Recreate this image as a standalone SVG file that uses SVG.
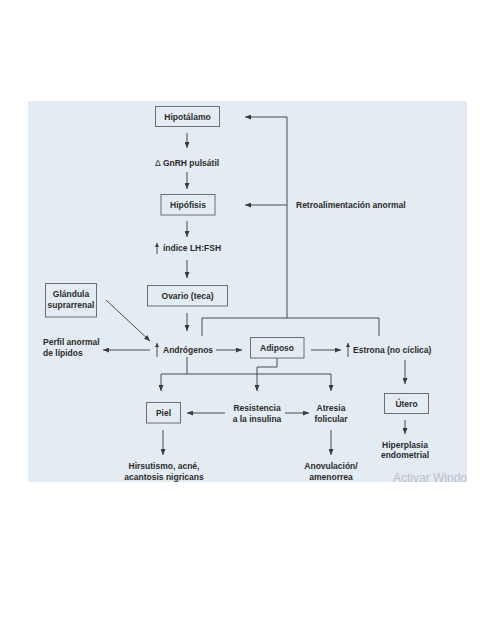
<svg xmlns="http://www.w3.org/2000/svg" width="494" height="640" viewBox="0 0 494 640">
<defs>
<marker id="ah" markerWidth="6" markerHeight="5" refX="6" refY="2.5" orient="auto" markerUnits="userSpaceOnUse"><path d="M0,0 L6,2.5 L0,5 Z" fill="#3a3a3a"/></marker>
<marker id="ahs" markerWidth="4" markerHeight="4" refX="4" refY="2" orient="auto" markerUnits="userSpaceOnUse"><path d="M0,0 L4,2 L0,4 Z" fill="#3a3a3a"/></marker>
<clipPath id="bgclip"><rect x="28" y="101" width="439" height="381"/></clipPath>
</defs>
<style>
text{font-family:"Liberation Sans",Arial,sans-serif;font-size:8.5px;font-weight:bold;fill:#2b2b2b}
.c{text-anchor:middle}
.box{fill:#e3ebf3;stroke:#6e6e6e;stroke-width:1}
.ln{fill:none;stroke:#3a3a3a;stroke-width:0.9}
.ar{fill:none;stroke:#3a3a3a;stroke-width:0.9;marker-end:url(#ah)}
.up{fill:none;stroke:#3a3a3a;stroke-width:0.9;marker-end:url(#ahs)}
.wm{font-size:12px;font-weight:normal;fill:#b9c0ca}
</style>
<rect width="494" height="640" fill="#ffffff"/>
<rect x="28" y="101" width="439" height="381" fill="#e3ebf3"/>

<g id="connectors">
<path class="ar" d="M187,133 V148"/>
<path class="ar" d="M187,172 V189"/>
<path class="ar" d="M187,221 V237"/>
<path class="ar" d="M187,260 V278"/>
<path class="ar" d="M187,313 V331"/>
<path class="ar" d="M106,300 L150,341"/>
<path class="ar" d="M150,350 H103"/>
<path class="ar" d="M216,350 H242"/>
<path class="ar" d="M311,350 H341"/>
<path class="ln" d="M202,336 V318 H379 V336"/>
<path class="ar" d="M287,318 V117 H245"/>
<path class="ar" d="M287,205 H245"/>
<path class="ar" d="M187,357 V374 H161 V391"/>
<path class="ar" d="M187,374 H331 V391"/>
<path class="ar" d="M277,358 V367 H257 V391"/>
<path class="ar" d="M225,413 H187"/>
<path class="ar" d="M285,413 H309"/>
<path class="ar" d="M163,430 V455"/>
<path class="ar" d="M331,430 V455"/>
<path class="ar" d="M405,360 V384"/>
<path class="ar" d="M405,420 V434"/>
</g>

<g id="hipotalamo"><rect class="box" x="155.5" y="106.5" width="64" height="20"/><text class="c" x="187.5" y="119.5">Hipotálamo</text></g>
<g id="gnrh"><text class="c" x="187" y="165.5"><tspan font-weight="normal">Δ</tspan> GnRH pulsátil</text></g>
<g id="hipofisis"><rect class="box" x="161" y="194.5" width="54" height="20.5"/><text class="c" x="188" y="208">Hipófisis</text></g>
<g id="retro"><text x="296" y="208">Retroalimentación anormal</text></g>
<g id="indice"><path class="up" d="M157,254 V243"/><text x="163" y="251">índice LH:FSH</text></g>
<g id="ovario"><rect class="box" x="147.5" y="285.5" width="80" height="20.5"/><text class="c" x="187.5" y="298.5">Ovario (teca)</text></g>
<g id="glandula"><rect class="box" x="45.5" y="283.5" width="51" height="33.5"/><text class="c" x="71" y="297">Glándula</text><text class="c" x="71" y="307.5">suprarrenal</text></g>
<g id="perfil"><text x="43" y="345">Perfil anormal</text><text x="43" y="355.5">de lípidos</text></g>
<g id="androgenos"><path class="up" d="M157,357 V343"/><text x="163" y="353">Andrógenos</text></g>
<g id="adiposo"><rect class="box" x="250.5" y="337.5" width="53.5" height="20.5"/><text class="c" x="277" y="351">Adiposo</text></g>
<g id="estrona"><path class="up" d="M348,357 V343"/><text x="353" y="353">Estrona (no cíclica)</text></g>
<g id="piel"><rect class="box" x="146.5" y="402.5" width="34" height="20.5"/><text class="c" x="163.5" y="416">Piel</text></g>
<g id="resistencia"><text class="c" x="257" y="411">Resistencia</text><text class="c" x="257" y="421.5">a la insulina</text></g>
<g id="atresia"><text class="c" x="331" y="411">Atresia</text><text class="c" x="331" y="421.5">folicular</text></g>
<g id="utero"><rect class="box" x="384.5" y="393.5" width="44" height="20"/><text class="c" x="406.5" y="406.5">Útero</text></g>
<g id="hiperplasia"><text class="c" x="405" y="448">Hiperplasia</text><text class="c" x="405" y="458">endometrial</text></g>
<g id="hirsutismo"><text class="c" x="164" y="469">Hirsutismo, acné,</text><text class="c" x="164" y="479.5">acantosis nigricans</text></g>
<g id="anovulacion"><text class="c" x="331" y="469">Anovulación/</text><text class="c" x="331" y="479.5">amenorrea</text></g>
<g clip-path="url(#bgclip)"><text class="wm" x="393" y="482">Activar Windows</text></g>
</svg>
